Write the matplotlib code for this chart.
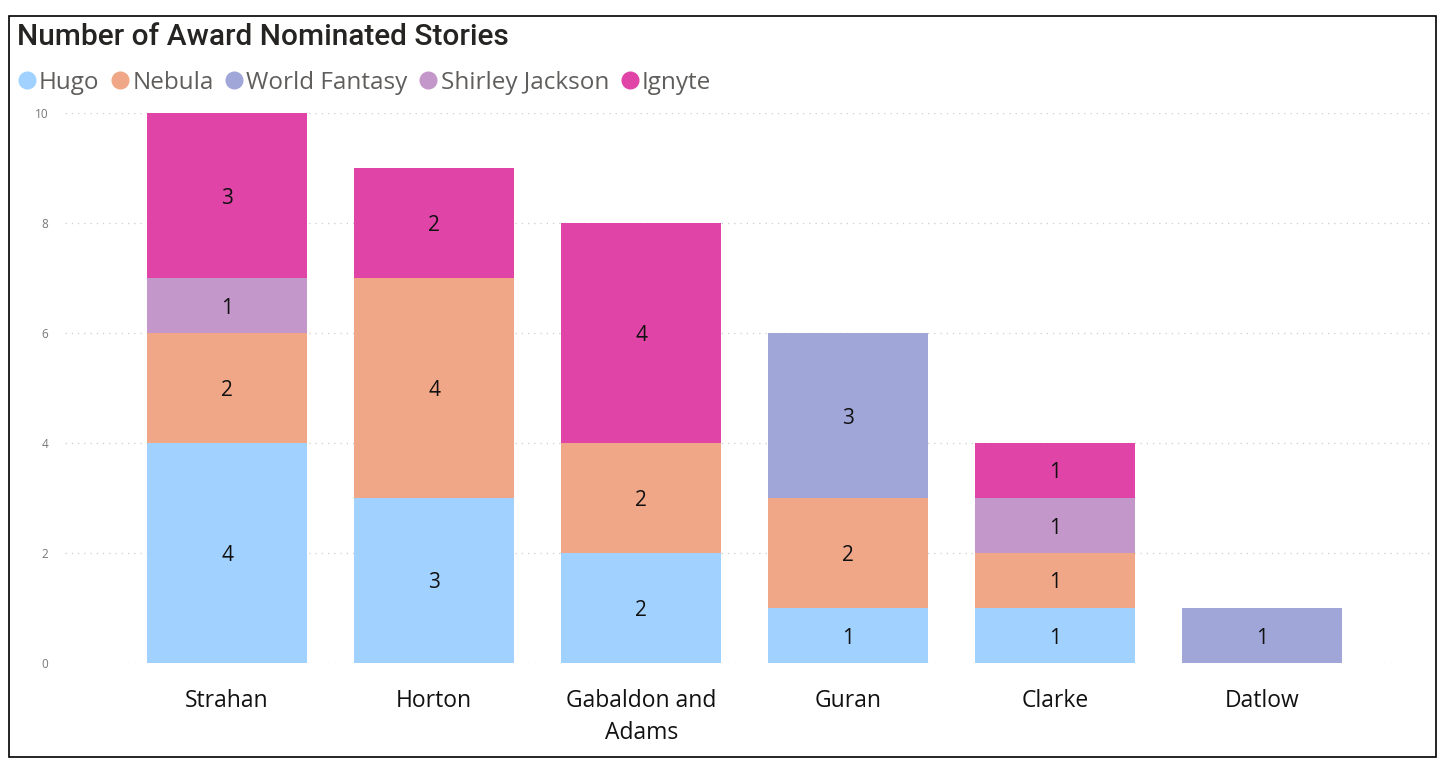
import numpy as np
import matplotlib.pyplot as plt
from matplotlib.lines import Line2D
from matplotlib.patches import Rectangle

editors = ["Strahan", "Horton", "Gabaldon and\nAdams", "Guran", "Clarke", "Datlow"]
awards = ["Hugo", "Nebula", "World Fantasy", "Shirley Jackson", "Ignyte"]
hugo = [4, 3, 2, 1, 1, 0]
nebula = [2, 4, 2, 2, 1, 0]
world_fantasy = [0, 0, 0, 3, 0, 1]
shirley_jackson = [1, 0, 0, 0, 1, 0]
ignyte = [3, 2, 4, 0, 1, 0]
colors = ["#A0D1FF", "#F0A787", "#A0A6D8", "#C397C9", "#E044A7"]

plt.rcParams['font.family'] = ['Open Sans', 'DejaVu Sans']

fig = plt.figure(figsize=(14.46, 7.73), dpi=100)
fig.patches.append(Rectangle((9/1446, 16/773), 1427/1446, 741/773, transform=fig.transFigure,
                             fill=False, edgecolor='black', linewidth=1.2))
ax = fig.add_axes([65/1446, 110/773, 1365/1446, 550/773])

x = np.arange(len(editors))
bottom = np.zeros(len(editors))
for name, vals, c in zip(awards, [hugo, nebula, world_fantasy, shirley_jackson, ignyte], colors):
    vals = np.array(vals)
    ax.bar(x, vals, 0.773, bottom=bottom, color=c, zorder=2)
    for xi, v, b in zip(x, vals, bottom):
        if v > 0:
            ax.text(xi, b + v / 2, str(v), ha='center', va='center_baseline', fontsize=15, color='#111111')
    bottom += vals

ax.set_xlim(-0.783, 5.81)
ax.set_ylim(0, 10)
ax.set_yticks([0, 2, 4, 6, 8, 10])
ax.set_xticks(x)
ax.set_xticklabels(editors, fontsize=16.5, color='#111111', linespacing=1.45)
ax.tick_params(axis='x', length=0, pad=19)
ax.tick_params(axis='y', length=0, labelsize=8.5, labelcolor='#777777', pad=12)
ax.grid(axis='y', color='#cccccc', linestyle=(0, (1, 4)), linewidth=0.9, zorder=0)
for s in ax.spines.values():
    s.set_visible(False)

fig.text(17/1446, 1 - 37/773, "Number of Award Nominated Stories", fontsize=21.5, fontweight='medium',
         family=['Roboto', 'DejaVu Sans'], color='#252423', va='center', ha='left')

handles = [Line2D([], [], marker='o', linestyle='', markersize=12, color=c) for c in colors]
fig.legend(handles, awards, loc='center left', bbox_to_anchor=(11/1446, 1 - 83/773), ncol=5,
           frameon=False, fontsize=17.5, labelcolor='#605E5C', handletextpad=-0.15,
           columnspacing=0.2, handlelength=1.3, borderpad=0, borderaxespad=0)

fig.savefig("out.png", dpi=100)
